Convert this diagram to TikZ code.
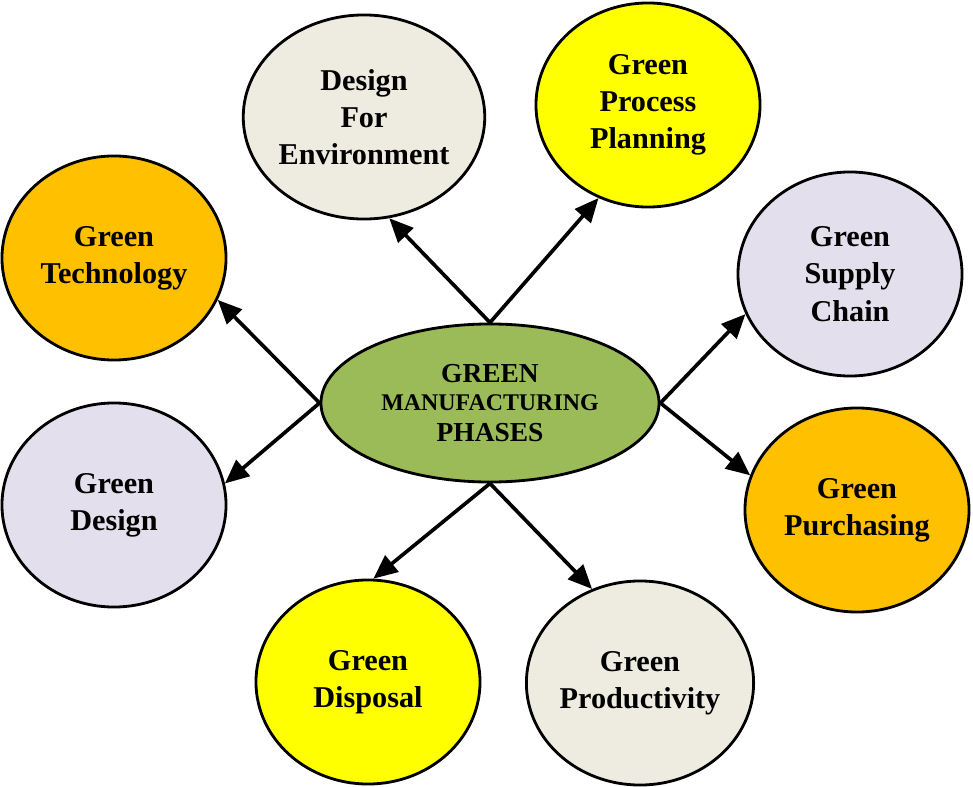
\documentclass[tikz,border=0pt]{standalone}
\usepackage{fontspec}
\setmainfont{Liberation Serif}
\usepackage[dvipsnames]{xcolor}
\usetikzlibrary{shapes}
\usetikzlibrary{shapes,arrows.meta}
\tikzstyle{every picture}+=[font=\bfseries]
\tikzstyle{phase}=[ellipse, draw=black, line width=2pt, minimum width=5.6cm,
  minimum height=5.1cm, inner sep=0pt, align=center,
  font=\bfseries\fontsize{21.5}{26.5}\selectfont]
\tikzstyle{hub}=[ellipse, draw=black, line width=2pt, minimum width=8.45cm,
  minimum height=3.95cm, inner sep=0pt, align=center,
  font=\bfseries\fontsize{19.5}{22}\selectfont]
\tikzstyle{phasearrow}=[line width=2.6pt, -{Triangle[length=0.6cm,width=0.52cm]}]

\begin{document}
\begin{tikzpicture}[x=0.025cm, y=-0.025cm]

\definecolor{hubgreen}{HTML}{9BBB59}
\definecolor{paper}{HTML}{EEECE1}
\definecolor{lemon}{HTML}{FFFF00}
\definecolor{amber}{HTML}{FFC000}
\definecolor{lilac}{HTML}{E4DFEC}

\useasboundingbox (0,0) rectangle (973,787);

%% centre
\node[hub, fill=hubgreen] (gmp) at (490,403)
  {GREEN\\[-2pt]{\fontsize{17}{22}\selectfont MANUFACTURING}\\PHASES};

%% phases
\node[phase, fill=paper]  (dfe)   at (364,117) {Design\\For\\Environment};
\node[phase, fill=lemon]  (gpp)   at (648,105) {Green\\Process\\Planning};
\node[phase, fill=amber]  (gtech) at (114,258) {Green\\Technology};
\node[phase, fill=lilac]  (gsc)   at (850,274) {Green\\Supply\\Chain};
\node[phase, fill=lilac]  (gdes)  at (114,505) {Green\\Design};
\node[phase, fill=amber]  (gpur)  at (857,510) {Green\\Purchasing};
\node[phase, fill=lemon]  (gdis)  at (368,682) {Green\\Disposal};
\node[phase, fill=paper]  (gprod) at (640,683) {Green\\Productivity};

%% arrows
\draw[phasearrow] (gmp.north) -- (dfe.-76);
\draw[phasearrow] (gmp.north) -- (gpp.-118);
\draw[phasearrow] (gmp.west)  -- (gtech.-22);
\draw[phasearrow] (gmp.west)  -- (gdes.11);
\draw[phasearrow] (gmp.east)  -- (gsc.-159);
\draw[phasearrow] (gmp.east)  -- (gpur.162);
\draw[phasearrow] (gmp.south) -- (gdis.87);
\draw[phasearrow] (gmp.south) -- (gprod.117);

\end{tikzpicture}
\end{document}
